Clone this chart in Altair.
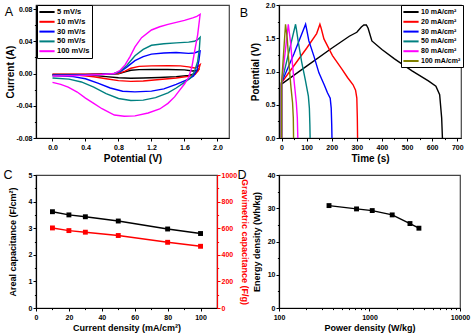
import json
import altair as alt
import pandas as pd

FONT = "Liberation Sans"

# ---------------- Panel A: cyclic voltammetry ----------------
cv_names = ["5 mV/s", "10 mV/s", "30 mV/s", "50 mV/s", "100 mV/s"]
cv_colors = ["#000000", "#ff0000", "#0000ff", "#008080", "#ff00ff"]

cv5_v = [0.0, 0.2, 0.4, 0.6, 0.8, 0.88, 0.95, 1.05, 1.2, 1.4, 1.6, 1.7, 1.75, 1.78,
         1.76, 1.72, 1.65, 1.5, 1.3, 1.1, 0.95, 0.8, 0.65, 0.45, 0.2, 0.0]
cv5_i = [-0.0012, -0.0012, -0.0011, -0.001, -0.0005, 0.002, 0.004, 0.0048, 0.005, 0.005, 0.0045, 0.0032, 0.0038, 0.006,
         0.003, -0.0005, -0.0025, -0.0038, -0.0049, -0.0056, -0.0058, -0.0052, -0.0038, -0.002, -0.0013, -0.0011]

cv10_v = [0.0, 0.2, 0.4, 0.6, 0.8, 0.88, 0.95, 1.05, 1.2, 1.4, 1.55, 1.65, 1.72, 1.76, 1.79,
          1.77, 1.73, 1.65, 1.5, 1.3, 1.1, 0.95, 0.8, 0.65, 0.5, 0.3, 0.0]
cv10_i = [-0.0008, -0.0008, -0.0007, -0.0005, 0.0, 0.003, 0.0065, 0.0088, 0.0095, 0.0097, 0.0095, 0.0082, 0.0068, 0.0085, 0.011,
          0.004, -0.001, -0.0035, -0.0055, -0.0075, -0.0092, -0.0098, -0.0088, -0.0065, -0.004, -0.0018, -0.001]

cv30_v = [0.0, 0.2, 0.4, 0.6, 0.75, 0.82, 0.9, 1.0, 1.1, 1.2, 1.35, 1.5, 1.65, 1.72, 1.76, 1.79,
          1.775, 1.75, 1.71, 1.65, 1.5, 1.35, 1.2, 1.0, 0.85, 0.7, 0.55, 0.4, 0.25, 0.0]
cv30_i = [-0.0018, -0.0017, -0.0015, -0.001, 0.0, 0.002, 0.008, 0.016, 0.021, 0.024, 0.0255, 0.026, 0.025, 0.0255, 0.027, 0.028,
          0.016, 0.004, -0.003, -0.007, -0.0135, -0.019, -0.0218, -0.0228, -0.022, -0.018, -0.012, -0.0065, -0.0038, -0.0025]

cv50_v = [0.0, 0.2, 0.4, 0.6, 0.75, 0.82, 0.9, 1.0, 1.1, 1.2, 1.35, 1.5, 1.65, 1.72, 1.76, 1.79,
          1.78, 1.76, 1.72, 1.67, 1.6, 1.5, 1.4, 1.25, 1.1, 0.95, 0.8, 0.65, 0.5, 0.35, 0.2, 0.0]
cv50_i = [-0.0025, -0.0024, -0.002, -0.0012, 0.0, 0.003, 0.01, 0.022, 0.03, 0.035, 0.037, 0.038, 0.039, 0.04, 0.042, 0.045,
          0.03, 0.015, 0.002, -0.006, -0.011, -0.018, -0.024, -0.03, -0.033, -0.0335, -0.031, -0.025, -0.017, -0.0105, -0.007, -0.0055]

cv100_v = [0.0, 0.2, 0.4, 0.6, 0.75, 0.82, 0.88, 0.94, 1.0, 1.08, 1.2, 1.3, 1.4, 1.5, 1.6, 1.7, 1.75, 1.79,
           1.76, 1.72, 1.69, 1.65, 1.6, 1.54, 1.48, 1.4, 1.3, 1.16, 1.0, 0.87, 0.75, 0.6, 0.5, 0.4, 0.3, 0.19, 0.1, 0.0]
cv100_i = [-0.003, -0.0028, -0.0022, -0.0012, 0.0, 0.004, 0.0107, 0.021, 0.033, 0.0445, 0.054, 0.058, 0.061, 0.0635, 0.066, 0.069, 0.071, 0.0735,
           0.048, 0.026, 0.008, -0.005, -0.013, -0.021, -0.029, -0.037, -0.044, -0.049, -0.0525, -0.053, -0.0515, -0.0437, -0.037, -0.0305, -0.023, -0.017, -0.0135, -0.011]

cv_v = [cv5_v, cv10_v, cv30_v, cv50_v, cv100_v]
cv_i = [cv5_i, cv10_i, cv30_i, cv50_i, cv100_i]

# ---------------- Panel B: charge / discharge ----------------
gcd_names = ["10 mA/cm²", "20 mA/cm²", "30 mA/cm²", "50 mA/cm²", "80 mA/cm²", "100 mA/cm²"]
gcd_colors = ["#000000", "#ff0000", "#0000ff", "#008080", "#ff00ff", "#808000"]

gcd10_t = [0, 0, 100, 200, 270, 300, 318, 328, 338, 345, 360, 400, 450, 520, 585, 615, 630, 638, 641]
gcd10_u = [0.0, 0.81, 1.08, 1.35, 1.53, 1.59, 1.67, 1.70, 1.70, 1.65, 1.46, 1.33, 1.19, 1.01, 0.86, 0.78, 0.65, 0.30, 0.0]
gcd20_t = [0, 0, 50, 100, 140, 153, 158, 169, 203, 240, 263, 285, 295, 300, 302, 303]
gcd20_u = [0.0, 0.83, 1.09, 1.35, 1.57, 1.71, 1.65, 1.49, 1.24, 1.04, 0.91, 0.80, 0.72, 0.60, 0.30, 0.0]
gcd30_t = [0, 0, 50, 96, 101, 109, 130, 149, 170, 183, 194, 198, 200, 201]
gcd30_u = [0.0, 0.83, 1.27, 1.71, 1.62, 1.46, 1.22, 0.98, 0.80, 0.68, 0.60, 0.45, 0.20, 0.0]
gcd50_t = [0, 0, 28, 56, 60, 67, 80, 95, 107, 111, 113, 114]
gcd50_u = [0.0, 0.83, 1.27, 1.71, 1.62, 1.44, 1.15, 0.87, 0.63, 0.45, 0.20, 0.0]
gcd80_t = [0, 0, 14, 27, 30, 36, 45, 53, 59, 63, 65]
gcd80_u = [0.0, 0.82, 1.27, 1.71, 1.62, 1.44, 1.05, 0.75, 0.53, 0.30, 0.0]
gcd100_t = [0, 0, 8, 16, 19, 23, 30, 38, 44, 47, 48]
gcd100_u = [0.0, 0.81, 1.26, 1.71, 1.62, 1.49, 1.10, 0.75, 0.53, 0.30, 0.0]

gcd_t = [gcd10_t, gcd20_t, gcd30_t, gcd50_t, gcd80_t, gcd100_t]
gcd_u = [gcd10_u, gcd20_u, gcd30_u, gcd50_u, gcd80_u, gcd100_u]

# ---------------- Panel C: capacitance vs current density ----------------
current_density = [10, 20, 30, 50, 80, 100]
areal_cap = [3.62, 3.50, 3.43, 3.27, 2.97, 2.80]
grav_cap = [602, 582, 570, 545, 494, 464]

# ---------------- Panel D: Ragone ----------------
power_density = [357, 719, 1072, 1782, 2800, 3516]
energy_density = [30.8, 29.8, 29.3, 28.0, 25.4, 24.0]

# tick lists
a_x_ticks = [0.0, 0.2, 0.4, 0.6, 0.8, 1.0, 1.2, 1.4, 1.6, 1.8, 2.0]
a_x_major = [0.0, 0.4, 0.8, 1.2, 1.6, 2.0]
a_y_ticks = [-0.08, -0.06, -0.04, -0.02, 0.0, 0.02, 0.04, 0.06, 0.08]
a_y_major = [-0.08, -0.04, 0.0, 0.04, 0.08]
b_x_ticks = [0, 50, 100, 150, 200, 250, 300, 350, 400, 450, 500, 550, 600, 650, 700]
b_x_major = [0, 100, 200, 300, 400, 500, 600, 700]
b_y_ticks = [0.0, 0.25, 0.5, 0.75, 1.0, 1.25, 1.5, 1.75, 2.0]
b_y_major = [0.0, 0.5, 1.0, 1.5, 2.0]
c_x_ticks = [0, 10, 20, 30, 40, 50, 60, 70, 80, 90, 100]
c_x_major = [0, 20, 40, 60, 80, 100]
c_y_ticks = [0, 0.5, 1, 1.5, 2, 2.5, 3, 3.5, 4, 4.5, 5]
c_y_major = [0, 1, 2, 3, 4, 5]
c_r_ticks = [0, 100, 200, 300, 400, 500, 600, 700, 800, 900, 1000]
c_r_major = [0, 200, 400, 600, 800, 1000]
d_x_ticks = [100, 200, 300, 400, 500, 600, 700, 800, 900, 1000, 2000, 3000, 4000,
             5000, 6000, 7000, 8000, 9000, 10000]
d_x_major = [100, 1000, 10000]
d_y_ticks = [0, 5, 10, 15, 20, 25, 30, 35, 40]
d_y_major = [0, 10, 20, 30, 40]


def major_test(major):
    return f"indexof({json.dumps(major)}, datum.value) >= 0"


def tick_size(major, big=3, small=1.6):
    return {"condition": {"test": major_test(major), "value": big}, "value": small}


def label_expr(major, fmt):
    return (f"{major_test(major)} ? (datum.value < 0 ? '-' + format(-datum.value, '{fmt}') "
            f": format(datum.value, '{fmt}')) : ''")


def axis(title, ticks, major, fmt, **kw):
    return alt.Axis(title=title, values=ticks, labelExpr=label_expr(major, fmt),
                    tickSize=tick_size(major), labelFlush=False, labelOverlap=False, **kw)


def long_frame(names, xs, ys):
    rows = []
    for name, a, b in zip(names, xs, ys):
        for k, (p, q) in enumerate(zip(a, b)):
            rows.append({"series": name, "k": k, "x": p, "y": q})
    return pd.DataFrame(rows)


def letter(ch, dx, dy):
    return alt.Chart(pd.DataFrame({"t": [ch]})).mark_text(
        font=FONT, fontSize=12.5, align="center", baseline="middle", color="black"
    ).encode(text="t:N", x=alt.value(dx), y=alt.value(dy))


def legend(x, y, size):
    return alt.Legend(orient="none", legendX=x, legendY=y, symbolType="M-1.9,0H1.9",
                      symbolSize=64, symbolStrokeWidth=2, labelFont=FONT, labelFontWeight="bold",
                      labelFontSize=size, labelColor="black", strokeColor="black", fillColor="white",
                      padding=2, rowPadding=0.8, labelOffset=5, symbolOffset=3)


# ---- A ----
df_a = long_frame(cv_names, cv_v, cv_i)
a_lines = alt.Chart(df_a).mark_line(strokeWidth=1.4, clip=True).encode(
    x=alt.X("x:Q", scale=alt.Scale(domain=[-0.2, 2.14], nice=False, zero=False),
            axis=axis("Potential (V)", a_x_ticks, a_x_major, ".1f", labelPadding=2, titlePadding=3, titleFontSize=10)),
    y=alt.Y("y:Q", scale=alt.Scale(domain=[-0.08, 0.085], nice=False, zero=False),
            axis=axis("Current (A)", a_y_ticks, a_y_major, ".2f", labelPadding=1, titlePadding=1, titleFontSize=10)),
    color=alt.Color("series:N", scale=alt.Scale(domain=cv_names, range=cv_colors), title=None,
                    legend=legend(1, 0, 7.5)),
    order="k:Q",
)
A = alt.layer(a_lines, letter("A", -27, 7)).properties(width=193, height=133)

# ---- B ----
df_b = long_frame(gcd_names, gcd_t, gcd_u)
b_lines = alt.Chart(df_b).mark_line(strokeWidth=1.4, clip=True).encode(
    x=alt.X("x:Q", scale=alt.Scale(domain=[-10, 715], nice=False, zero=False),
            axis=axis("Time (s)", b_x_ticks, b_x_major, "d", labelPadding=2, titlePadding=3, titleFontSize=10)),
    y=alt.Y("y:Q", scale=alt.Scale(domain=[0, 2], nice=False),
            axis=axis("Potential (V)", b_y_ticks, b_y_major, ".1f", labelPadding=1, titlePadding=5, titleFontSize=10)),
    color=alt.Color("series:N", scale=alt.Scale(domain=gcd_names, range=gcd_colors), title=None,
                    legend=legend(122, 0, 7)),
    order="k:Q",
)
B = alt.layer(b_lines, letter("B", -35, 8)).properties(width=182, height=133)

# ---- C ----
df_c = pd.DataFrame({"cd": current_density, "areal": areal_cap, "grav": grav_cap})
c_base = alt.Chart(df_c).encode(
    x=alt.X("cd:Q", scale=alt.Scale(domain=[0, 110], nice=False),
            axis=axis("Current density (mA/cm²)", c_x_ticks, c_x_major, "d", labelPadding=2, titlePadding=3, titleFontSize=9))
)
c_black = c_base.mark_line(color="black", strokeWidth=1.4,
                           point=alt.OverlayMarkDef(shape="square", filled=True, size=24, color="black")).encode(
    y=alt.Y("areal:Q", scale=alt.Scale(domain=[0, 5], nice=False),
            axis=axis("Areal capacitance (F/cm²)", c_y_ticks, c_y_major, "d", labelPadding=1, titlePadding=11, titleFontSize=9))
)
c_red = c_base.mark_line(color="#ff0000", strokeWidth=1.4,
                         point=alt.OverlayMarkDef(shape="square", filled=True, size=24, color="#ff0000")).encode(
    y=alt.Y("grav:Q", scale=alt.Scale(domain=[0, 1000], nice=False),
            axis=axis("Gravimetric capacitance (F/g)", c_r_ticks, c_r_major, "d", orient="right",
                      labelPadding=1, titlePadding=3, titleFontSize=9,
                      domainColor="#ff0000", tickColor="#ff0000", labelColor="#ff0000", titleColor="#ff0000"))
)
C = alt.layer(c_black, c_red, letter("C", -28, 0)).resolve_scale(y="independent").properties(width=181, height=133)

# ---- D ----
df_d = pd.DataFrame({"p": power_density, "e": energy_density})
d_line = alt.Chart(df_d).mark_line(color="black", strokeWidth=1.4,
                                   point=alt.OverlayMarkDef(shape="square", filled=True, size=24, color="black")).encode(
    x=alt.X("p:Q", scale=alt.Scale(type="log", domain=[100, 10000], nice=False),
            axis=axis("Power density (W/kg)", d_x_ticks, d_x_major, "d", labelPadding=2, titlePadding=3, titleFontSize=9)),
    y=alt.Y("e:Q", scale=alt.Scale(domain=[0, 40], nice=False),
            axis=axis("Energy density (Wh/kg)", d_y_ticks, d_y_major, "d", labelPadding=1, titlePadding=6, titleFontSize=9)),
)
D = alt.layer(d_line, letter("D", -37, 0)).properties(width=181, height=133)

chart = alt.concat(A, B, C, D, columns=2, spacing={"row": 37, "column": 50}, bounds="flush").resolve_scale(
    color="independent"
).resolve_legend(color="independent").properties(
    padding={"left": 2, "top": 0, "right": 0, "bottom": 0}
).configure_view(stroke="#444444", strokeWidth=1.2).configure_axis(
    labelFont=FONT, titleFont=FONT, labelFontWeight="bold", titleFontWeight="bold",
    labelFontSize=7, labelColor="black", titleColor="black", domainColor="black",
    tickColor="black", domainWidth=1.2, tickWidth=1, grid=False,
)

chart.save("out.html", embed_options={"renderer": "svg", "actions": False})
